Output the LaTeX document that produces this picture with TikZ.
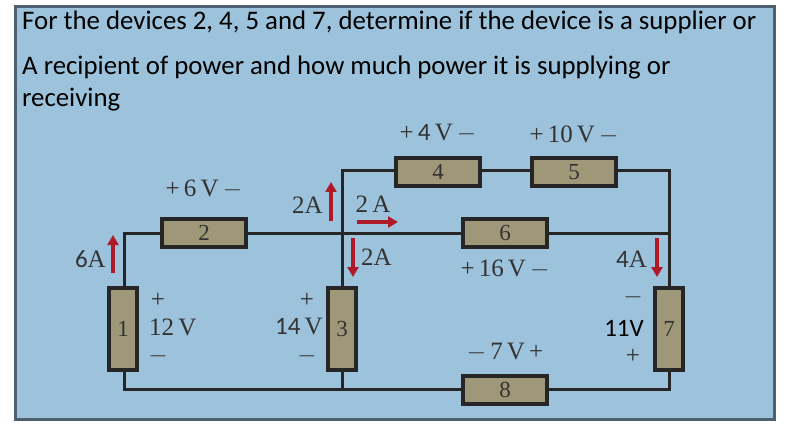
\documentclass[tikz,border=0pt]{standalone}
\usepackage{fontspec}
\setmainfont{Liberation Serif}
\newfontfamily\calfont{Carlito}
\usetikzlibrary{arrows.meta}
\definecolor{bg}{HTML}{9CC2DC}
\definecolor{frame}{HTML}{4E6070}
\definecolor{dev}{HTML}{9E9878}
\definecolor{arr}{HTML}{B01A28}
\definecolor{txt}{HTML}{333333}
\begin{document}
\begin{tikzpicture}[x=1pt,y=-1pt,
  hdev/.style={draw=black!85,line width=3.6pt,fill=dev,minimum width=84pt,minimum height=28pt,inner sep=0pt,font=\fontsize{23}{23}\selectfont,text=txt},
  vdev/.style={draw=black!85,line width=3.6pt,fill=dev,minimum width=28pt,minimum height=82pt,inner sep=0pt,font=\fontsize{23}{23}\selectfont,text=txt},
  wire/.style={line width=3pt,black!85},
  cur/.style={arr,line width=4pt,-{Triangle[length=10pt,width=11pt]}},
  lab/.style={font=\fontsize{25}{25}\selectfont,text=txt,inner sep=0pt},
  clab/.style={font=\calfont\fontsize{25}{25}\selectfont,inner sep=0pt}]
\useasboundingbox (0,0) rectangle (785,425);
\node[draw=frame,line width=3pt,fill=bg,minimum width=759pt,minimum height=413pt,inner sep=0pt,anchor=north west] (frm) at (14,5) {};
\node[anchor=west,font=\calfont\fontsize{26.8}{26.8}\selectfont,inner sep=0pt] (t1) at (22,22) {For the devices 2, 4, 5 and 7, determine if the device is a supplier or};
\node[anchor=west,font=\calfont\fontsize{26.8}{26.8}\selectfont,inner sep=0pt] (t2) at (22,68) {A recipient of power and how much power it is supplying or};
\node[anchor=west,font=\calfont\fontsize{26.8}{26.8}\selectfont,inner sep=0pt] (t3) at (22,100) {receiving};
% corners
\coordinate (tl) at (124,233);
\coordinate (bl) at (124,389);
\coordinate (jm) at (342,233);
\coordinate (tm) at (342,171);
\coordinate (bm) at (342,389);
\coordinate (tr) at (669,171);
\coordinate (mr) at (669,233);
\coordinate (br) at (669,389);
\draw[wire] (tl) -- (jm) -- (tm) -- (tr) -- (br) -- (bl) -- cycle;
\draw[wire] (jm) -- (mr);
\draw[wire] (jm) -- (bm);
\node[vdev] (d1) at (123,329) {1};
\node[hdev] (d2) at (204,233) {2};
\node[vdev] (d3) at (342,329) {3};
\node[hdev] (d4) at (438,172) {4};
\node[hdev] (d5) at (574,172) {5};
\node[hdev] (d6) at (505,233) {6};
\node[vdev] (d7) at (669,329) {7};
\node[hdev] (d8) at (505,390) {8};
% labels
\node[lab] (v2) at (204,189) {+\,6\,V\,$-$};
\node[lab] (v4) at (438,133) {+\,{\calfont 4}\,V\,$-$};
\node[lab] (v5) at (574,135) {+\,10\,V\,$-$};
\node[lab] (v6) at (505,269) {+\,16\,V\,$-$};
\node[lab] (v8) at (505,352) {$-$\,7\,V\,+};
\node[lab] (p1) at (158,300) {+};
\node[lab,anchor=west] (v1) at (149,327) {12\,V};
\node[lab] (m1) at (158,356) {$-$};
\node[lab] (p3) at (307,300) {+};
\node[lab,anchor=east] (v3) at (323,327) {{\calfont 14}\,V};
\node[lab] (m3) at (307,356) {$-$};
\node[lab] (m7) at (633,297) {$-$};
\node[clab,anchor=east] (v7) at (644,328) {11V};
\node[lab] (p7) at (633,356) {+};
% currents
\coordinate (a1s) at (113,273); \coordinate (a1e) at (113,235);
\draw[cur] (a1s) -- (a1e);
\node[lab,anchor=east] (i1) at (106,259) {{\calfont 6}A};
\coordinate (a2s) at (331,221); \coordinate (a2e) at (331,182);
\draw[cur] (a2s) -- (a2e);
\node[lab,anchor=east] (i2) at (323,205) {2A};
\coordinate (a3s) at (357,222); \coordinate (a3e) at (398,222);
\draw[cur] (a3s) -- (a3e);
\node[lab] (i3) at (373,204) {2\,A};
\coordinate (a4s) at (353,238); \coordinate (a4e) at (353,277);
\draw[cur] (a4s) -- (a4e);
\node[lab,anchor=west] (i4) at (361,257) {2A};
\coordinate (a5s) at (657,238); \coordinate (a5e) at (657,277);
\draw[cur] (a5s) -- (a5e);
\node[lab,anchor=east] (i5) at (647,259) {{\calfont 4}A};
\end{tikzpicture}
\end{document}
